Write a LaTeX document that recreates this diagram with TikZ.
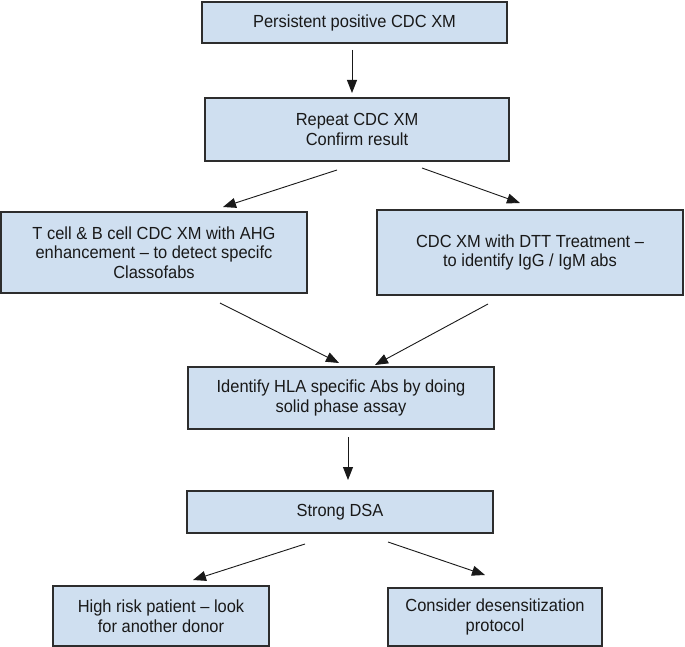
\documentclass[tikz,border=0pt]{standalone}
\usepackage{fontspec}
\setmainfont{Liberation Sans}[FakeStretch=0.94]
\usetikzlibrary{arrows.meta}
\definecolor{boxfill}{RGB}{207,223,240}
\definecolor{boxline}{RGB}{45,45,45}
\definecolor{txt}{RGB}{25,25,25}
\begin{document}
\begin{tikzpicture}[x=1pt,y=-1pt,
  box/.style={draw=boxline, line width=1.3pt, fill=boxfill, align=center,
    font=\fontsize{17.5}{19.5}\selectfont, text=txt, inner sep=0pt},
  arr/.style={draw=txt, line width=0.9pt, -{Triangle[length=13pt,width=10pt]}}]
\useasboundingbox (0,0) rectangle (685,647);
\node[box, minimum width=305pt, minimum height=41pt] (b1) at (354.5,22.5) {Persistent positive CDC XM};
\node[box, minimum width=304pt, minimum height=63pt] (b2) at (357,129.5) {Repeat CDC XM\\Confirm result};
\node[box, minimum width=306pt, minimum height=81pt] (b3) at (154,252.5) {T cell \& B cell CDC XM with AHG\\enhancement – to detect specifc\\Classofabs};
\node[box, minimum width=306pt, minimum height=85pt] (b4) at (530,252.5) {CDC XM with DTT Treatment –\\to identify IgG / IgM abs};
\node[box, minimum width=306pt, minimum height=62pt] (b5) at (341,398) {Identify HLA specific Abs by doing\\solid phase assay};
\node[box, minimum width=306pt, minimum height=42pt] (b6) at (340,512) {Strong DSA};
\node[box, minimum width=216pt, minimum height=60pt] (b7) at (161,616) {High risk patient – look\\for another donor};
\node[box, minimum width=214pt, minimum height=58pt] (b8) at (495,617) {Consider desensitization\\protocol};
% arrow end points (arrows float between the boxes)
\coordinate (a1s) at (352,50);  \coordinate (a1e) at (352,93);
\coordinate (a2s) at (337,170); \coordinate (a2e) at (223,207);
\coordinate (a3s) at (422,168); \coordinate (a3e) at (520,203);
\coordinate (a4s) at (220,303); \coordinate (a4e) at (339,363);
\coordinate (a5s) at (488,304); \coordinate (a5e) at (375,365);
\coordinate (a6s) at (348,437); \coordinate (a6e) at (348,480);
\coordinate (a7s) at (305,544); \coordinate (a7e) at (193,580);
\coordinate (a8s) at (388,542); \coordinate (a8e) at (485,575);
\draw[arr] (a1s) -- (a1e);
\draw[arr] (a2s) -- (a2e);
\draw[arr] (a3s) -- (a3e);
\draw[arr] (a4s) -- (a4e);
\draw[arr] (a5s) -- (a5e);
\draw[arr] (a6s) -- (a6e);
\draw[arr] (a7s) -- (a7e);
\draw[arr] (a8s) -- (a8e);
\end{tikzpicture}
\end{document}
